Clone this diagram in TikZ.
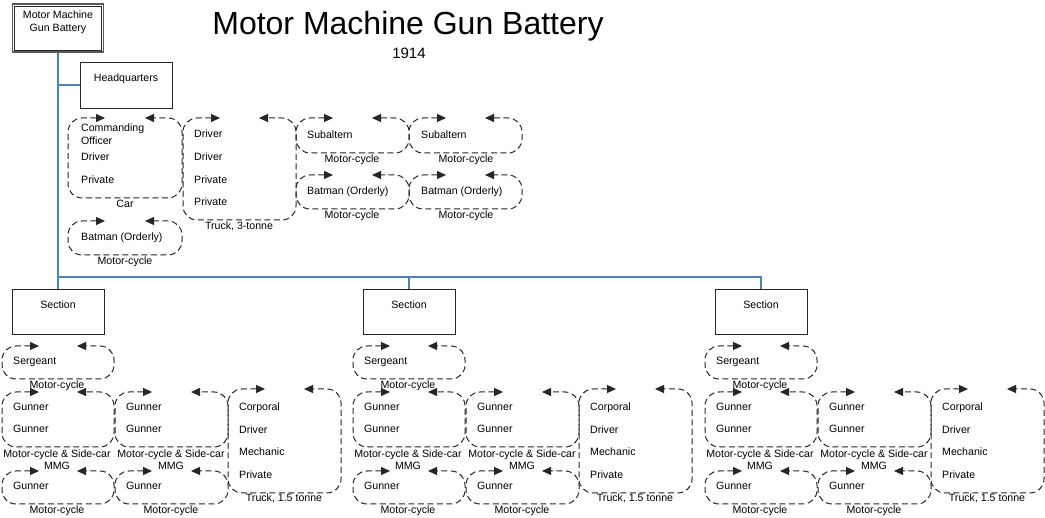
\documentclass[tikz,border=0pt]{standalone}
\usepackage{fontspec}
\setmainfont{Liberation Sans}
\usetikzlibrary{arrows.meta}
\definecolor{linkblue}{HTML}{4F81BD}
\tikzset{
  veh/.style={draw=black!85, line width=1pt, dash pattern=on 6pt off 3.5pt,
    rounded corners=14pt, arrows={Triangle[length=9pt,width=8pt]-Triangle[length=9pt,width=8pt]}},
  lbl/.style={font=\fontsize{10.6}{12}\selectfont, inner sep=0pt, anchor=base west},
  clbl/.style={font=\fontsize{10.6}{12}\selectfont, inner sep=0pt, anchor=base},
  box/.style={draw=black!85, line width=0.8pt, inner sep=0pt},
  link/.style={draw=linkblue, line width=1.4pt},
}
\newcommand\veh[4]{\draw[veh] ({#1+37},{#2}) -- ({#1},{#2}) -- ({#1},{#4}) -- ({#3},{#4}) -- ({#3},{#2}) -- ({#3-37},{#2});}
\newcommand\mytl[4]{\node[lbl] (#1) at (#2,{#3+3.8}) {#4};}
\newcommand\mytc[4]{\node[clbl] (#1) at (#2,{#3+3.8}) {#4};}
\newcommand\secblock[2]{%
\begin{scope}[xshift=#1pt]
\node[box, minimum width=92pt, minimum height=45pt] (sec#2) at (58,311.5) {};
\mytc{secT#2}{58}{305}{Section}
\veh{2}{346}{114}{379}
\mytl{sgt#2}{13}{361}{Sergeant}
\mytc{sgtL#2}{57}{385}{Motor-cycle}
\veh{2}{392}{114}{447}
\mytl{gAa#2}{13}{407}{Gunner}
\mytl{gAb#2}{13}{429}{Gunner}
\mytc{gAL#2}{57}{454}{Motor-cycle \& Side-car}
\mytc{gAM#2}{57}{466}{MMG}
\veh{115}{392}{228}{447}
\mytl{gBa#2}{126}{407}{Gunner}
\mytl{gBb#2}{126}{429}{Gunner}
\mytc{gBL#2}{171}{454}{Motor-cycle \& Side-car}
\mytc{gBM#2}{171}{466}{MMG}
\veh{2}{471}{114}{504}
\mytl{gC#2}{13}{486}{Gunner}
\mytc{gCL#2}{57}{510}{Motor-cycle}
\veh{115}{471}{228}{504}
\mytl{gD#2}{126}{486}{Gunner}
\mytc{gDL#2}{171}{510}{Motor-cycle}
\veh{228}{389}{341}{493}
\mytl{tra#2}{239}{407}{Corporal}
\mytl{trb#2}{239}{430}{Driver}
\mytl{trc#2}{239}{452}{Mechanic}
\mytl{trd#2}{239}{475}{Private}
\mytc{trL#2}{284}{498}{Truck, 1.5 tonne}
\end{scope}}
\begin{document}
\begin{tikzpicture}[x=1pt,y=-1pt]
\useasboundingbox[fill=white] (0,0) rectangle (1045,518);
% title
\node[font=\fontsize{32}{36}\selectfont, anchor=base, inner sep=0pt] (title) at (408,35) {Motor Machine Gun Battery};
\node[font=\fontsize{15}{18}\selectfont, anchor=base, inner sep=0pt] (year) at (409,59) {1914};
% root box
\node[draw=black!65, line width=1.8pt, minimum width=91pt, minimum height=48pt, inner sep=0pt] (root) at (58,28) {};
\draw[black!85, line width=0.7pt] ([shift={(3pt,-3pt)}]root.north west) rectangle ([shift={(-3pt,3pt)}]root.south east);
\mytc{rootA}{58}{15}{Motor Machine}
\mytc{rootB}{58}{28}{Gun Battery}
% headquarters
\node[box, minimum width=92pt, minimum height=46pt] (hq) at (126,85) {};
\mytc{hqT}{126}{78}{Headquarters}
% HQ vehicles
\veh{68}{118}{182}{198}
\mytl{co1}{81}{128}{Commanding}
\mytl{co2}{81}{141}{Officer}
\mytl{co3}{81}{157}{Driver}
\mytl{co4}{81}{180}{Private}
\mytc{coL}{125}{204}{Car}
\veh{183}{118}{296}{220}
\mytl{tk1}{194}{134}{Driver}
\mytl{tk2}{194}{157}{Driver}
\mytl{tk3}{194}{180}{Private}
\mytl{tk4}{194}{202}{Private}
\mytc{tkL}{239}{226}{Truck, 3-tonne}
\veh{68}{221}{182}{255}
\mytl{bh}{81}{237}{Batman (Orderly)}
\mytc{bhL}{125}{261}{Motor-cycle}
\veh{296}{118}{409}{153}
\mytl{su1}{307}{135}{Subaltern}
\mytc{su1L}{352}{159}{Motor-cycle}
\veh{409}{118}{522}{153}
\mytl{su2}{421}{135}{Subaltern}
\mytc{su2L}{466}{159}{Motor-cycle}
\veh{296}{175}{409}{209}
\mytl{bm1}{307}{191}{Batman (Orderly)}
\mytc{bm1L}{352}{215}{Motor-cycle}
\veh{409}{175}{522}{209}
\mytl{bm2}{421}{191}{Batman (Orderly)}
\mytc{bm2L}{466}{215}{Motor-cycle}
% sections
\secblock{0}{1}
\secblock{351}{2}
\secblock{703}{3}
% connectors
\coordinate (busL) at (58,277);
\coordinate (busR) at (761,277);
\draw[link] (root.south) -- (busL) -- (busR) -- (sec3.north);
\draw[link] (hq.west) -- (hq.west -| root.south);
\draw[link] (busL) -- (sec1.north);
\draw[link] (sec2.north |- busL) -- (sec2.north);
\end{tikzpicture}
\end{document}
